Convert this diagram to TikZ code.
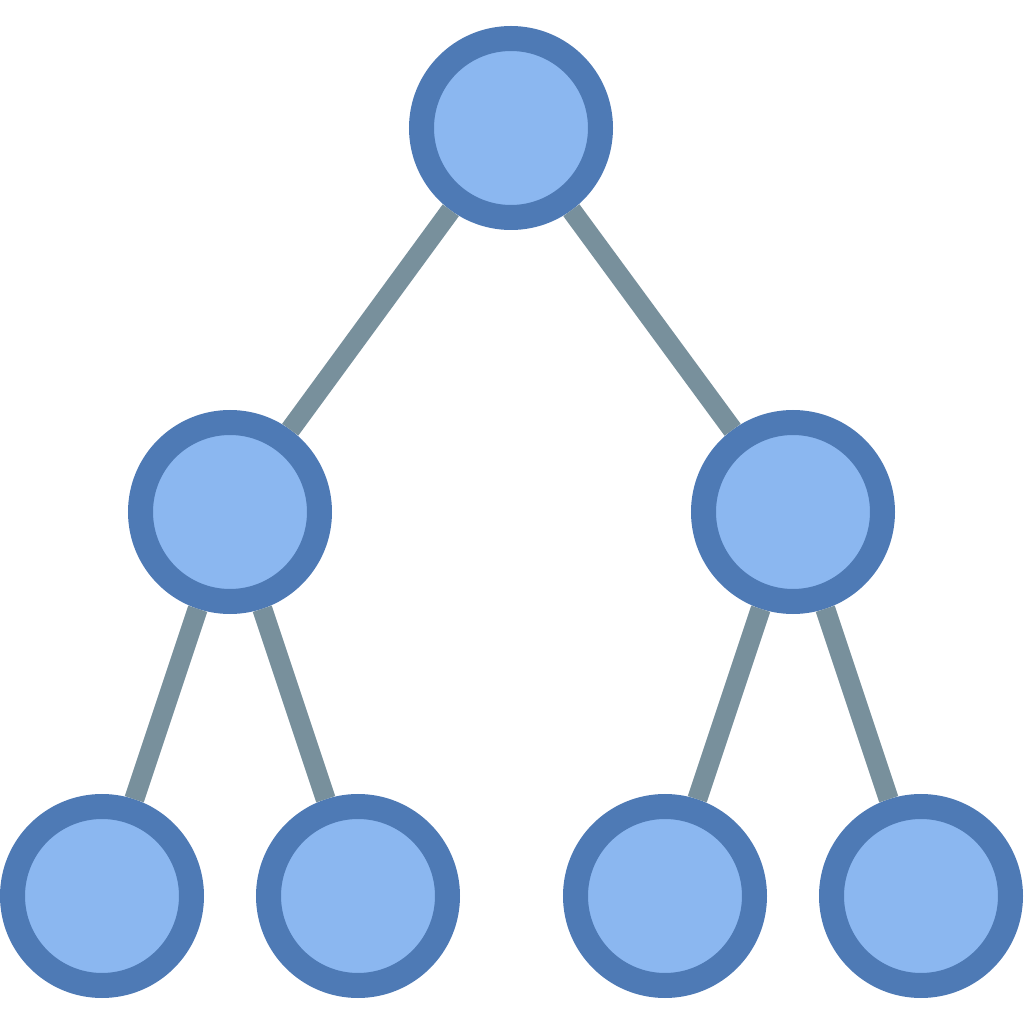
\documentclass[tikz,border=0pt]{standalone}
\usepackage{tikz}
\usetikzlibrary{positioning}
\definecolor{nodefill}{HTML}{8BB7F0}
\definecolor{nodeline}{HTML}{4E7AB5}
\definecolor{edgegray}{HTML}{78909C}
\begin{document}
\begin{tikzpicture}
       \tikzset{treenode/.style ={circle,minimum size=1.79cm, inner sep=0pt, line width=0.25cm, draw=nodeline, fill=nodefill}}

       \tikzset{branch/.style={line width=0.2cm, draw=edgegray}}

        \useasboundingbox (0,0) rectangle (10.24,10.24);

        \node[treenode] (root) at (5.11,8.96) {};
        \node[treenode] (left) at (2.30,5.12) {};
        \node[treenode] (right) at (7.93,5.12) {};
        \node[treenode] (leftA) at (1.02,1.28) {};
        \node[treenode] (leftB) at (3.58,1.28) {};
        \node[treenode] (rightA) at (6.65,1.28) {};
        \node[treenode] (rightB) at (9.21,1.28) {};

        \draw[branch](root) -- (left);
        \draw[branch](root) -- (right);
        \draw[branch](left) -- (leftA);
        \draw[branch](left) -- (leftB);
        \draw[branch](right) -- (rightA);
        \draw[branch](right) -- (rightB);

   \end{tikzpicture}
\end{document}
